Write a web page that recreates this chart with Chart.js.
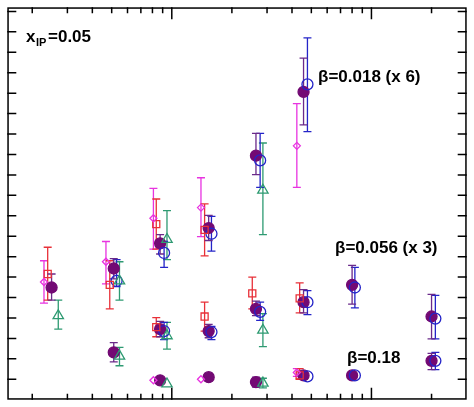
<!DOCTYPE html>
<html>
<head>
<meta charset="utf-8">
<script src="https://cdn.jsdelivr.net/npm/chart.js@4/dist/chart.umd.min.js"></script>
<style>
  html, body { margin: 0; padding: 0; background: #fff; }
  #wrap { width: 474px; height: 407px; }
</style>
</head>
<body>
<div id="wrap"><canvas id="c"></canvas></div>
<script>
'use strict';

// Filled purple circles
const fullX  = [2.50, 5.12, 8.74, 15.3, 26.4, 45.7, 5.12, 8.74, 15.3, 26.4, 45.7, 80.0, 200, 8.74, 15.3, 26.4, 45.7, 80.0, 200];
const fullY  = [5.49, 6.42, 7.65, 8.40, 11.94, 15.06, 2.32, 3.45, 3.36, 4.44, 4.77, 5.62, 4.07, 0.95, 1.10, 0.86, 1.19, 1.19, 1.90];
const fullLo = [4.87, 5.91, 7.13, 7.79, 11.01, 13.45, 1.85, 3.08, 3.03, 4.11, 4.25, 4.68, 2.98, null, 0.91, 0.62, 1.00, null, 1.47];
const fullHi = [6.15, 6.90, 8.08, 9.02, 13.03, 16.71, 2.79, 3.83, 3.69, 4.82, 5.39, 6.57, 5.15, null, 1.29, 1.10, 1.38, null, 2.27];

// Open blue circles
const openX  = [5.29, 9.15, 15.8, 27.7, 47.8, 9.15, 15.8, 27.7, 47.8, 82.6, 209, 47.8, 82.6, 209];
const openY  = [5.81, 7.18, 8.12, 11.71, 15.43, 3.36, 3.31, 4.30, 4.77, 5.49, 3.97, 1.14, 1.19, 1.90];
const openLo = [5.53, 6.47, 7.27, 10.39, 13.12, 2.94, 2.94, 3.88, 4.16, 4.49, 2.98, null, null, 1.47];
const openHi = [6.85, 7.74, 8.97, 13.03, 17.70, 3.78, 3.59, 4.77, 5.34, 6.47, 5.10, null, null, 2.32];

// Open red squares
const sqX  = [2.39, 4.89, 8.36, 14.6, 8.36, 14.6, 25.3, 43.7, 43.7];
const sqY  = [6.15, 5.62, 8.59, 8.31, 3.55, 4.07, 5.20, 4.96, 1.19];
const sqLo = [4.87, 4.44, 7.37, 7.04, 3.08, 3.36, 4.44, 4.25, 1.00];
const sqHi = [7.46, 6.80, 9.82, 9.58, 4.02, 4.77, 6.00, 5.72, 1.52];

// Open magenta diamonds
const diaX  = [2.29, 4.68, 8.09, 14.0, 42.3, 8.09, 14.0, 42.3];
const diaY  = [5.76, 6.75, 8.88, 9.40, 12.42, 0.95, 1.00, 1.33];
const diaLo = [4.73, 5.67, 7.37, 7.98, 10.39, null, null, 1.14];
const diaHi = [6.80, 7.74, 10.34, 10.86, 14.49, null, null, 1.52];

// Open green triangles
const triX  = [2.70, 5.47, 9.46, 28.6, 9.46, 28.6, 5.47, 9.46, 28.6];
const triY  = [4.11, 5.81, 7.84, 10.25, 3.13, 3.40, 2.13, 0.77, 0.81];
const triLo = [3.45, 4.87, 6.85, 8.08, 2.47, 2.60, 1.66, null, 0.58];
const triHi = [4.87, 6.75, 9.25, 12.56, 3.78, 4.21, 2.56, null, 1.05];

const yTicks = [1, 2, 3, 4, 5, 6, 7, 8, 9, 10, 11, 12, 13, 14, 15, 16, 17, 18, 19];
const xMajor = [10, 100];
const xMinor = [2, 3, 4, 5, 6, 7, 8, 9, 20, 30, 40, 50, 60, 70, 80, 90, 200];

const PURPLE = '#730a74';
const BLUE = '#2424c8';
const RED = '#e83038';
const MAGENTA = '#e833e0';
const GREEN = '#2e9a72';

function pts(xs, ys, lo, hi) {
  return xs.map((x, i) => ({ x: x, y: ys[i], lo: lo[i], hi: hi[i] }));
}

function makeSet(xs, ys, lo, hi, color, style, fill, radius, barColor) {
  return {
    data: pts(xs, ys, lo, hi),
    pointStyle: style,
    pointRadius: radius,
    pointBorderColor: color,
    pointBackgroundColor: fill ? color : 'rgba(255,255,255,0)',
    pointBorderWidth: 1.3,
    barColor: barColor || color,
  };
}

const errorBars = {
  id: 'errorBars',
  beforeDatasetsDraw(chart) {
    const { ctx, scales: { x, y } } = chart;
    ctx.save();
    ctx.lineWidth = 1.3;
    chart.data.datasets.forEach(ds => {
      ctx.strokeStyle = ds.barColor;
      ds.data.forEach(p => {
        if (p.lo == null) return;
        const px = x.getPixelForValue(p.x);
        const y1 = y.getPixelForValue(p.lo);
        const y2 = y.getPixelForValue(p.hi);
        ctx.beginPath();
        ctx.moveTo(px, y1); ctx.lineTo(px, y2);
        ctx.moveTo(px - 4, y1); ctx.lineTo(px + 4, y1);
        ctx.moveTo(px - 4, y2); ctx.lineTo(px + 4, y2);
        ctx.stroke();
      });
    });
    ctx.restore();
  },
};

const frame = {
  id: 'frame',
  afterDraw(chart) {
    const { ctx, chartArea: a, scales: { x, y } } = chart;
    ctx.save();
    ctx.strokeStyle = '#000';
    ctx.lineWidth = 1.5;
    ctx.strokeRect(a.left + 0.75, a.top + 0.75, a.right - a.left - 1.5, a.bottom - a.top - 1.5);
    ctx.beginPath();
    yTicks.forEach(v => {
      const py = y.getPixelForValue(v);
      ctx.moveTo(a.left, py); ctx.lineTo(a.left + 9, py);
      ctx.moveTo(a.right, py); ctx.lineTo(a.right - 9, py);
    });
    xMinor.forEach(v => {
      const px = x.getPixelForValue(v);
      ctx.moveTo(px, a.bottom); ctx.lineTo(px, a.bottom - 6);
      ctx.moveTo(px, a.top); ctx.lineTo(px, a.top + 6);
    });
    xMajor.forEach(v => {
      const px = x.getPixelForValue(v);
      ctx.moveTo(px, a.bottom); ctx.lineTo(px, a.bottom - 12);
      ctx.moveTo(px, a.top); ctx.lineTo(px, a.top + 12);
    });
    ctx.stroke();

    ctx.fillStyle = '#000';
    ctx.font = 'bold 17px "Liberation Sans", Arial, sans-serif';
    ctx.textBaseline = 'alphabetic';
    ctx.fillText('x', 26, 42);
    ctx.font = 'bold 11px "Liberation Sans", Arial, sans-serif';
    ctx.fillText('IP', 36, 46);
    ctx.font = 'bold 17px "Liberation Sans", Arial, sans-serif';
    ctx.fillText('=0.05', 48, 42);
    ctx.fillText('β=0.018 (x 6)', 318, 82);
    ctx.fillText('β=0.056 (x 3)', 335, 253);
    ctx.fillText('β=0.18', 347, 363);
    ctx.restore();
  },
};

new Chart(document.getElementById('c'), {
  type: 'scatter',
  data: {
    datasets: [
      makeSet(diaX, diaY, diaLo, diaHi, MAGENTA, 'rectRot', false, 3.5),
      makeSet(sqX, sqY, sqLo, sqHi, RED, 'rect', false, 5),
      makeSet(triX, triY, triLo, triHi, GREEN, 'triangle', false, 6),
      makeSet(openX, openY, openLo, openHi, BLUE, 'circle', false, 5.5),
      makeSet(fullX, fullY, fullLo, fullHi, PURPLE, 'circle', true, 5.5, '#6a2a8a'),
    ],
  },
  options: {
    responsive: true,
    maintainAspectRatio: false,
    animation: false,
    layout: { padding: 0 },
    plugins: { legend: { display: false }, tooltip: { enabled: false } },
    scales: {
      x: { type: 'logarithmic', min: 1.5, max: 300, display: false },
      y: { type: 'linear', min: 0, max: 19.2, display: false },
    },
  },
  plugins: [errorBars, frame],
});
</script>
</body>
</html>
